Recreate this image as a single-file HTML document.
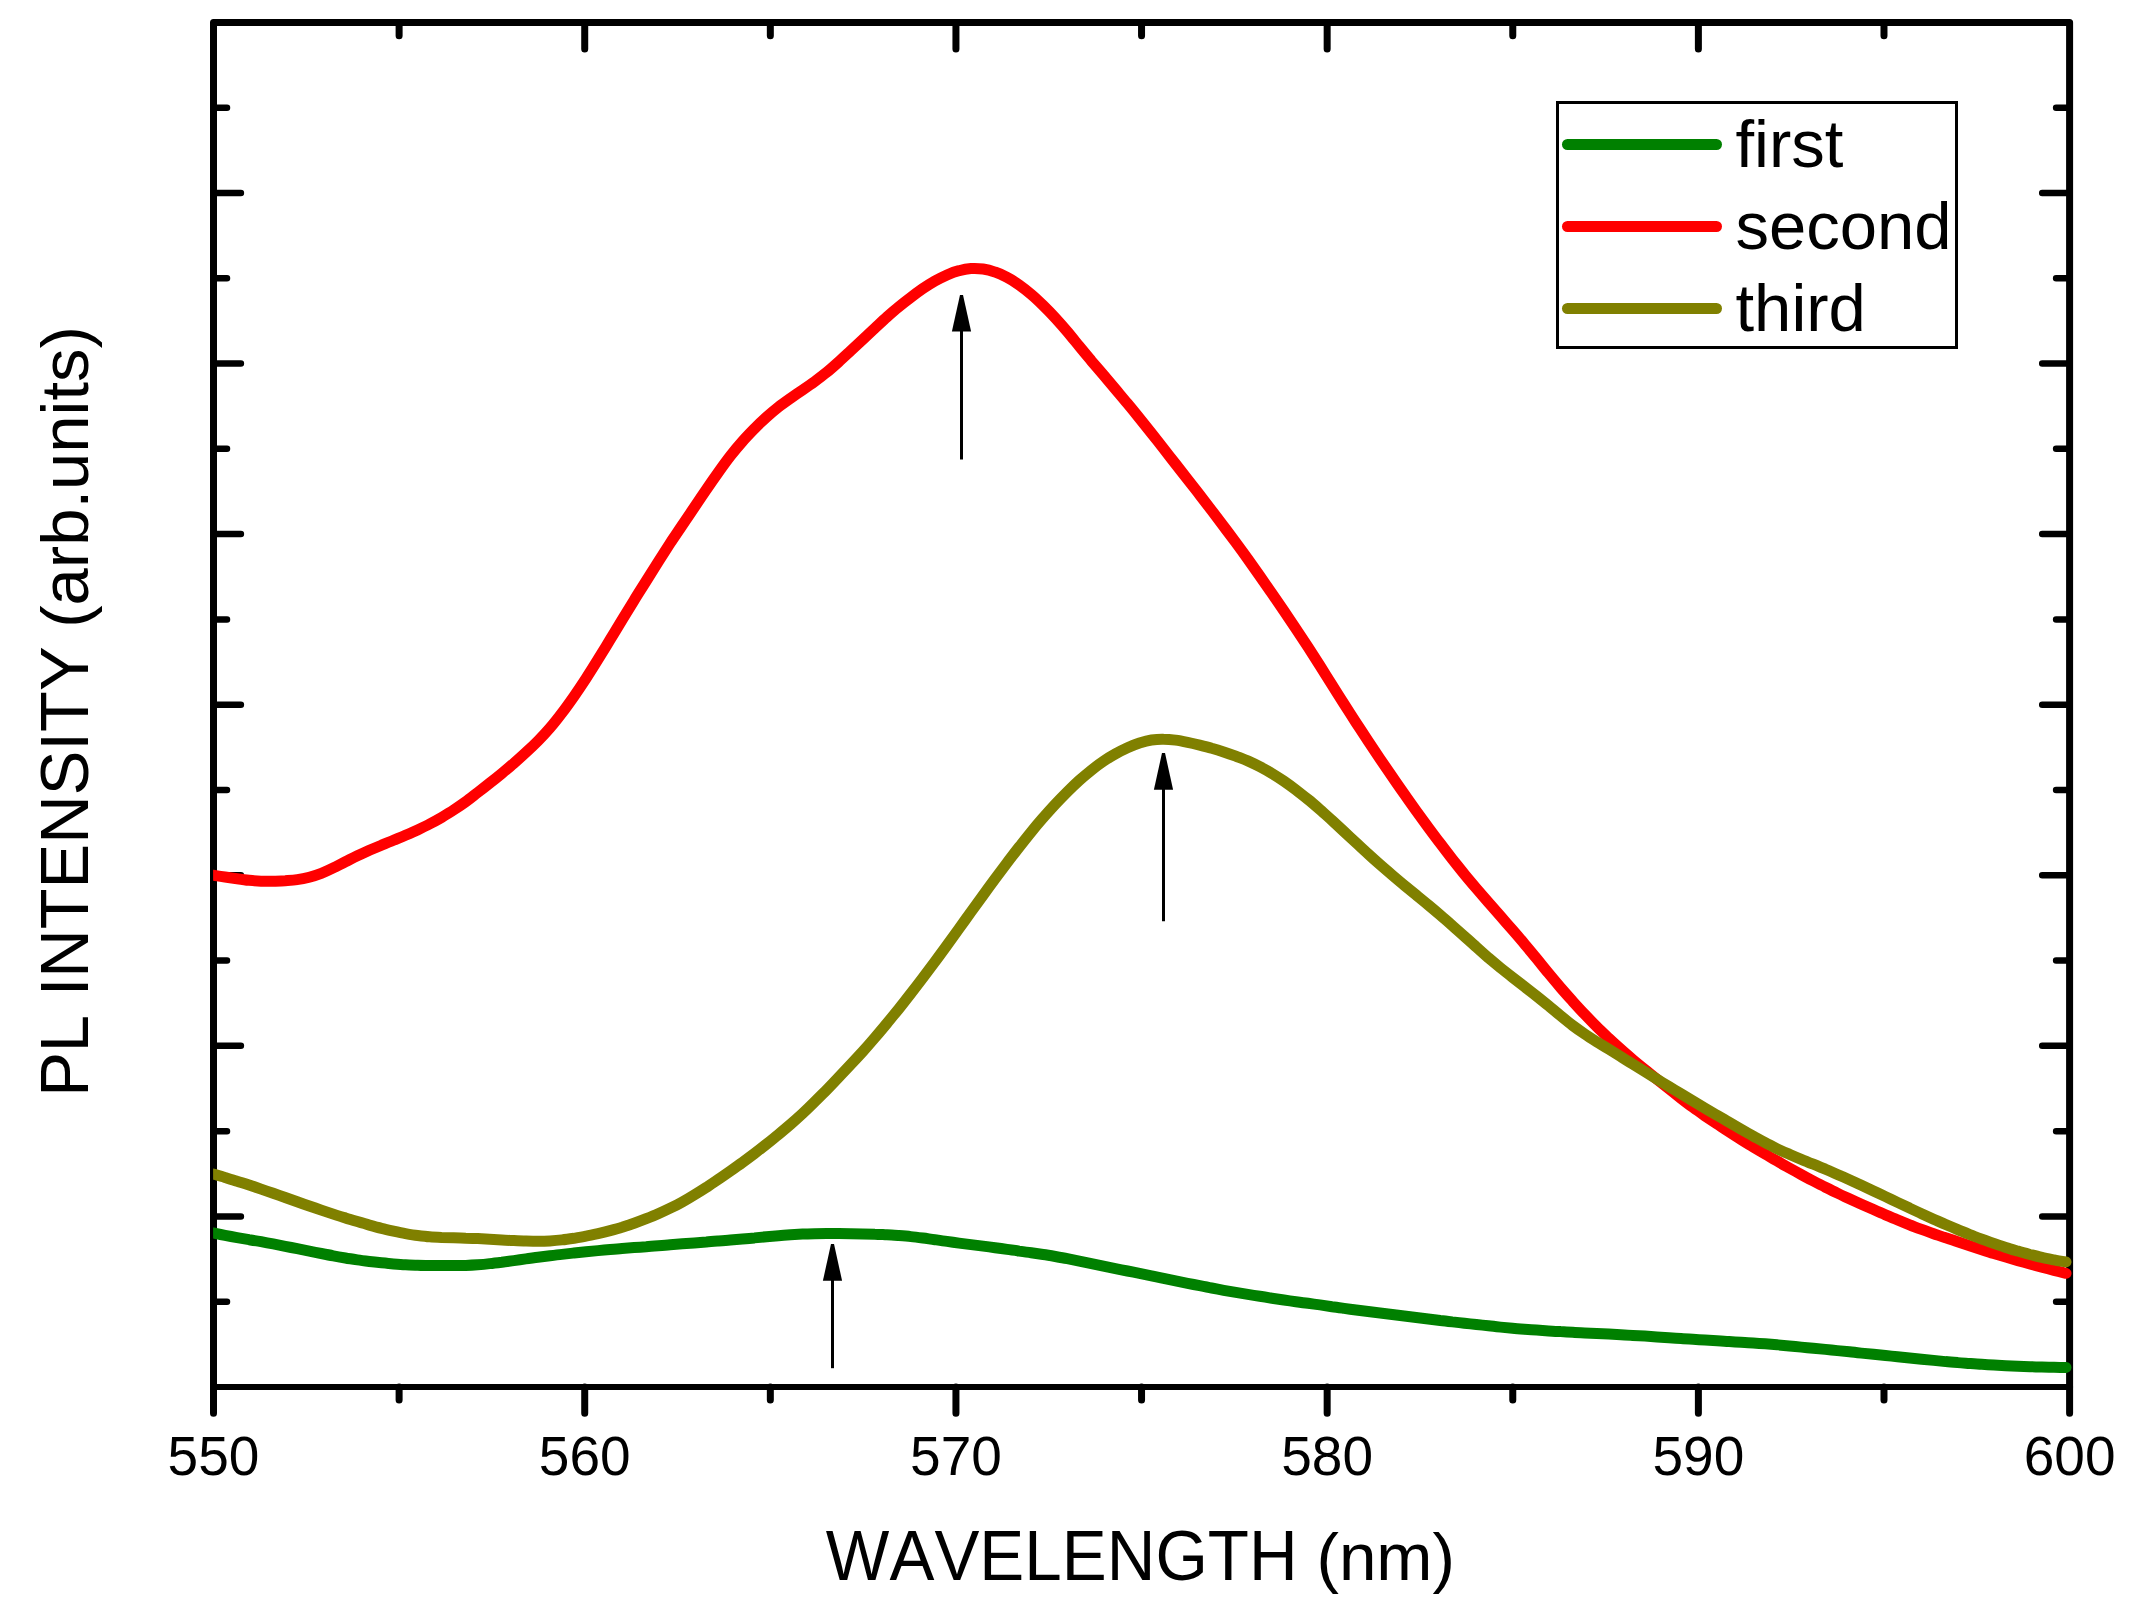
<!DOCTYPE html>
<html lang="en"><head><meta charset="utf-8"><title>PL intensity vs wavelength</title>
<style>html,body{margin:0;padding:0;background:#fff}body{width:2131px;height:1619px;overflow:hidden}svg{display:block}text{font-kerning:none;font-family:"Liberation Sans",sans-serif;fill:#000}</style></head><body>
<svg width="2131" height="1619" viewBox="0 0 2131 1619">
<rect width="2131" height="1619" fill="#fff"/>
<defs><clipPath id="pc"><rect x="213.10" y="0" width="1866.10" height="1619"/></clipPath></defs>
<g stroke="#000" stroke-linecap="round" stroke-linejoin="round" fill="none">
<path stroke-width="7" d="M213.50 1387.00 V22.40 H2069.60 V1387.00"/>
<path stroke-width="6" d="M213.50 1387.00 H2069.60"/>
<path stroke-width="7" d="M213.50 1387.00 v26.20 M399.11 1387.00 v13.00 M399.11 22.40 v13.40 M584.72 1387.00 v26.20 M584.72 22.40 v26.60 M770.33 1387.00 v13.00 M770.33 22.40 v13.40 M955.94 1387.00 v26.20 M955.94 22.40 v26.60 M1141.55 1387.00 v13.00 M1141.55 22.40 v13.40 M1327.16 1387.00 v26.20 M1327.16 22.40 v26.60 M1512.77 1387.00 v13.00 M1512.77 22.40 v13.40 M1698.38 1387.00 v26.20 M1698.38 22.40 v26.60 M1883.99 1387.00 v13.00 M1883.99 22.40 v13.40 M2069.60 1387.00 v26.20"/>
<path stroke-width="6.5" d="M213.50 107.69 h13.50 M2069.60 107.69 h-13.50 M213.50 192.97 h27.40 M2069.60 192.97 h-27.40 M213.50 278.26 h13.50 M2069.60 278.26 h-13.50 M213.50 363.55 h27.40 M2069.60 363.55 h-27.40 M213.50 448.84 h13.50 M2069.60 448.84 h-13.50 M213.50 534.12 h27.40 M2069.60 534.12 h-27.40 M213.50 619.41 h13.50 M2069.60 619.41 h-13.50 M213.50 704.70 h27.40 M2069.60 704.70 h-27.40 M213.50 789.99 h13.50 M2069.60 789.99 h-13.50 M213.50 875.27 h27.40 M2069.60 875.27 h-27.40 M213.50 960.56 h13.50 M2069.60 960.56 h-13.50 M213.50 1045.85 h27.40 M2069.60 1045.85 h-27.40 M213.50 1131.14 h13.50 M2069.60 1131.14 h-13.50 M213.50 1216.42 h27.40 M2069.60 1216.42 h-27.40 M213.50 1301.71 h13.50 M2069.60 1301.71 h-13.50"/>
</g>
<g fill="none" stroke-width="11" stroke-linecap="round" stroke-linejoin="round" clip-path="url(#pc)">
<path stroke="#008000" d="M213.0 1233.0C215.0 1233.4 221.0 1234.6 225.0 1235.4C229.0 1236.1 233.1 1236.9 237.1 1237.6C241.1 1238.3 245.1 1239.0 249.1 1239.7C253.1 1240.3 257.1 1240.9 261.1 1241.7C265.1 1242.4 269.2 1243.2 273.2 1243.9C277.2 1244.7 281.2 1245.5 285.2 1246.3C289.2 1247.1 293.2 1247.9 297.2 1248.7C301.2 1249.5 305.2 1250.3 309.3 1251.1C313.3 1251.9 317.3 1252.7 321.3 1253.5C325.3 1254.3 329.3 1255.1 333.3 1255.8C337.3 1256.6 341.3 1257.3 345.4 1258.0C349.4 1258.7 353.4 1259.3 357.4 1259.9C361.4 1260.5 365.4 1261.0 369.4 1261.5C373.4 1262.0 377.4 1262.4 381.5 1262.8C385.5 1263.2 389.5 1263.6 393.5 1263.9C397.5 1264.2 401.5 1264.5 405.5 1264.7C409.5 1264.9 413.5 1265.1 417.6 1265.2C421.6 1265.4 425.6 1265.4 429.6 1265.5C433.6 1265.5 437.6 1265.5 441.6 1265.5C445.6 1265.5 449.6 1265.5 453.6 1265.5C457.7 1265.5 461.7 1265.5 465.7 1265.4C469.7 1265.3 473.7 1265.1 477.7 1264.8C481.7 1264.5 485.7 1264.1 489.7 1263.6C493.8 1263.2 497.8 1262.7 501.8 1262.2C505.8 1261.6 509.8 1261.1 513.8 1260.6C517.8 1260.0 521.8 1259.5 525.8 1258.9C529.9 1258.4 533.9 1257.8 537.9 1257.3C541.9 1256.8 545.9 1256.3 549.9 1255.8C553.9 1255.3 557.9 1254.8 561.9 1254.4C566.0 1253.9 570.0 1253.5 574.0 1253.0C578.0 1252.6 582.0 1252.2 586.0 1251.8C590.0 1251.4 594.0 1251.0 598.0 1250.6C602.0 1250.2 606.1 1249.9 610.1 1249.5C614.1 1249.2 618.1 1248.9 622.1 1248.5C626.1 1248.2 630.1 1247.9 634.1 1247.6C638.1 1247.3 642.2 1247.0 646.2 1246.7C650.2 1246.3 654.2 1246.0 658.2 1245.7C662.2 1245.4 666.2 1245.1 670.2 1244.7C674.2 1244.4 678.3 1244.1 682.3 1243.8C686.3 1243.5 690.3 1243.2 694.3 1242.9C698.3 1242.6 702.3 1242.3 706.3 1242.0C710.3 1241.6 714.4 1241.3 718.4 1241.0C722.4 1240.7 726.4 1240.4 730.4 1240.0C734.4 1239.7 738.4 1239.3 742.4 1239.0C746.4 1238.6 750.5 1238.2 754.5 1237.9C758.5 1237.5 762.5 1237.1 766.5 1236.7C770.5 1236.4 774.5 1236.0 778.5 1235.7C782.5 1235.3 786.5 1235.0 790.6 1234.7C794.6 1234.5 798.6 1234.3 802.6 1234.1C806.6 1233.9 810.6 1233.8 814.6 1233.7C818.6 1233.7 822.6 1233.6 826.7 1233.6C830.7 1233.6 834.7 1233.6 838.7 1233.6C842.7 1233.7 846.7 1233.7 850.7 1233.7C854.7 1233.8 858.7 1233.8 862.8 1233.9C866.8 1233.9 870.8 1234.0 874.8 1234.2C878.8 1234.3 882.8 1234.6 886.8 1234.8C890.8 1235.0 894.8 1235.3 898.9 1235.6C902.9 1235.9 906.9 1236.2 910.9 1236.6C914.9 1237.0 918.9 1237.5 922.9 1238.0C926.9 1238.5 930.9 1239.2 934.9 1239.7C939.0 1240.3 943.0 1240.9 947.0 1241.4C951.0 1242.0 955.0 1242.5 959.0 1243.1C963.0 1243.6 967.0 1244.1 971.0 1244.6C975.1 1245.1 979.1 1245.6 983.1 1246.1C987.1 1246.6 991.1 1247.2 995.1 1247.7C999.1 1248.3 1003.1 1248.8 1007.1 1249.4C1011.2 1249.9 1015.2 1250.5 1019.2 1251.1C1023.2 1251.6 1027.2 1252.1 1031.2 1252.7C1035.2 1253.3 1039.2 1253.9 1043.2 1254.5C1047.3 1255.1 1051.3 1255.8 1055.3 1256.5C1059.3 1257.2 1063.3 1257.9 1067.3 1258.7C1071.3 1259.5 1075.3 1260.3 1079.3 1261.1C1083.3 1261.9 1087.4 1262.8 1091.4 1263.6C1095.4 1264.5 1099.4 1265.3 1103.4 1266.2C1107.4 1267.0 1111.4 1267.8 1115.4 1268.6C1119.4 1269.4 1123.5 1270.2 1127.5 1271.0C1131.5 1271.8 1135.5 1272.6 1139.5 1273.4C1143.5 1274.2 1147.5 1275.0 1151.5 1275.8C1155.5 1276.7 1159.6 1277.5 1163.6 1278.4C1167.6 1279.2 1171.6 1280.1 1175.6 1280.9C1179.6 1281.7 1183.6 1282.5 1187.6 1283.3C1191.6 1284.1 1195.7 1284.9 1199.7 1285.7C1203.7 1286.5 1207.7 1287.3 1211.7 1288.0C1215.7 1288.8 1219.7 1289.5 1223.7 1290.3C1227.7 1291.0 1231.7 1291.7 1235.8 1292.4C1239.8 1293.1 1243.8 1293.7 1247.8 1294.4C1251.8 1295.0 1255.8 1295.7 1259.8 1296.3C1263.8 1297.0 1267.8 1297.6 1271.9 1298.2C1275.9 1298.8 1279.9 1299.4 1283.9 1300.0C1287.9 1300.6 1291.9 1301.1 1295.9 1301.7C1299.9 1302.2 1303.9 1302.7 1308.0 1303.3C1312.0 1303.8 1316.0 1304.4 1320.0 1304.9C1324.0 1305.5 1328.0 1306.1 1332.0 1306.7C1336.0 1307.2 1340.0 1307.8 1344.1 1308.4C1348.1 1308.9 1352.1 1309.5 1356.1 1310.0C1360.1 1310.5 1364.1 1311.0 1368.1 1311.5C1372.1 1312.1 1376.1 1312.6 1380.1 1313.0C1384.2 1313.5 1388.2 1314.0 1392.2 1314.5C1396.2 1315.0 1400.2 1315.5 1404.2 1316.0C1408.2 1316.5 1412.2 1317.0 1416.2 1317.5C1420.3 1318.0 1424.3 1318.5 1428.3 1319.0C1432.3 1319.5 1436.3 1320.0 1440.3 1320.5C1444.3 1320.9 1448.3 1321.4 1452.3 1321.9C1456.4 1322.3 1460.4 1322.7 1464.4 1323.2C1468.4 1323.6 1472.4 1324.1 1476.4 1324.5C1480.4 1324.9 1484.4 1325.4 1488.4 1325.8C1492.5 1326.3 1496.5 1326.7 1500.5 1327.1C1504.5 1327.5 1508.5 1327.9 1512.5 1328.3C1516.5 1328.7 1520.5 1329.0 1524.5 1329.3C1528.5 1329.6 1532.6 1329.9 1536.6 1330.1C1540.6 1330.4 1544.6 1330.6 1548.6 1330.9C1552.6 1331.1 1556.6 1331.3 1560.6 1331.6C1564.6 1331.8 1568.7 1332.0 1572.7 1332.2C1576.7 1332.5 1580.7 1332.7 1584.7 1332.9C1588.7 1333.1 1592.7 1333.3 1596.7 1333.5C1600.7 1333.7 1604.8 1333.9 1608.8 1334.1C1612.8 1334.3 1616.8 1334.5 1620.8 1334.7C1624.8 1334.9 1628.8 1335.1 1632.8 1335.4C1636.8 1335.6 1640.9 1335.9 1644.9 1336.1C1648.9 1336.4 1652.9 1336.6 1656.9 1336.9C1660.9 1337.2 1664.9 1337.5 1668.9 1337.8C1672.9 1338.1 1677.0 1338.4 1681.0 1338.6C1685.0 1338.9 1689.0 1339.1 1693.0 1339.3C1697.0 1339.5 1701.0 1339.8 1705.0 1340.0C1709.0 1340.2 1713.0 1340.5 1717.1 1340.7C1721.1 1341.0 1725.1 1341.3 1729.1 1341.5C1733.1 1341.8 1737.1 1342.0 1741.1 1342.3C1745.1 1342.5 1749.1 1342.7 1753.2 1343.0C1757.2 1343.3 1761.2 1343.5 1765.2 1343.8C1769.2 1344.1 1773.2 1344.5 1777.2 1344.8C1781.2 1345.2 1785.2 1345.5 1789.3 1345.9C1793.3 1346.3 1797.3 1346.7 1801.3 1347.1C1805.3 1347.5 1809.3 1347.8 1813.3 1348.2C1817.3 1348.6 1821.3 1349.0 1825.4 1349.4C1829.4 1349.8 1833.4 1350.2 1837.4 1350.6C1841.4 1351.0 1845.4 1351.4 1849.4 1351.8C1853.4 1352.3 1857.4 1352.7 1861.4 1353.1C1865.5 1353.5 1869.5 1353.9 1873.5 1354.3C1877.5 1354.7 1881.5 1355.1 1885.5 1355.5C1889.5 1355.9 1893.5 1356.4 1897.5 1356.8C1901.6 1357.2 1905.6 1357.6 1909.6 1358.0C1913.6 1358.4 1917.6 1358.8 1921.6 1359.2C1925.6 1359.6 1929.6 1360.0 1933.6 1360.4C1937.7 1360.8 1941.7 1361.2 1945.7 1361.6C1949.7 1362.0 1953.7 1362.3 1957.7 1362.6C1961.7 1363.0 1965.7 1363.2 1969.7 1363.5C1973.8 1363.8 1977.8 1364.1 1981.8 1364.3C1985.8 1364.6 1989.8 1364.8 1993.8 1365.1C1997.8 1365.3 2001.8 1365.5 2005.8 1365.7C2009.8 1365.9 2013.9 1366.1 2017.9 1366.3C2021.9 1366.4 2025.9 1366.6 2029.9 1366.7C2033.9 1366.8 2037.9 1367.0 2041.9 1367.1C2045.9 1367.2 2050.0 1367.3 2054.0 1367.3C2058.0 1367.4 2064.0 1367.4 2066.0 1367.5"/>
<path stroke="#ff0000" d="M213.0 875.2C215.0 875.5 221.0 876.4 225.0 877.0C229.0 877.6 233.1 878.2 237.1 878.7C241.1 879.3 245.1 879.9 249.1 880.3C253.1 880.7 257.1 881.0 261.1 881.2C265.1 881.3 269.2 881.3 273.2 881.2C277.2 881.1 281.2 880.9 285.2 880.7C289.2 880.4 293.2 880.2 297.2 879.6C301.2 879.1 305.2 878.3 309.3 877.2C313.3 876.2 317.3 874.8 321.3 873.3C325.3 871.7 329.3 869.9 333.3 867.9C337.3 866.0 341.3 863.8 345.4 861.8C349.4 859.8 353.4 857.7 357.4 855.8C361.4 853.9 365.4 852.1 369.4 850.3C373.4 848.6 377.4 846.9 381.5 845.2C385.5 843.6 389.5 842.0 393.5 840.3C397.5 838.6 401.5 837.0 405.5 835.2C409.5 833.5 413.5 831.8 417.6 829.9C421.6 828.0 425.6 826.1 429.6 824.0C433.6 821.9 437.6 819.7 441.6 817.4C445.6 815.0 449.6 812.6 453.6 810.0C457.7 807.4 461.7 804.7 465.7 801.8C469.7 798.8 473.7 795.6 477.7 792.5C481.7 789.4 485.7 786.2 489.7 783.1C493.8 779.9 497.8 776.7 501.8 773.4C505.8 770.1 509.8 766.8 513.8 763.3C517.8 759.8 521.8 756.2 525.8 752.5C529.9 748.8 533.9 745.1 537.9 741.0C541.9 736.9 545.9 732.7 549.9 728.0C553.9 723.4 557.9 718.3 561.9 713.0C566.0 707.7 570.0 702.0 574.0 696.3C578.0 690.5 582.0 684.5 586.0 678.4C590.0 672.3 594.0 665.9 598.0 659.4C602.0 653.0 606.1 646.3 610.1 639.7C614.1 633.1 618.1 626.4 622.1 619.9C626.1 613.3 630.1 606.8 634.1 600.3C638.1 593.8 642.2 587.4 646.2 581.0C650.2 574.6 654.2 568.2 658.2 561.9C662.2 555.6 666.2 549.3 670.2 543.1C674.2 537.0 678.3 531.1 682.3 525.1C686.3 519.1 690.3 513.3 694.3 507.4C698.3 501.4 702.3 495.4 706.3 489.6C710.3 483.7 714.4 477.8 718.4 472.2C722.4 466.6 726.4 461.1 730.4 455.9C734.4 450.8 738.4 446.0 742.4 441.5C746.4 436.9 750.5 432.7 754.5 428.6C758.5 424.5 762.5 420.7 766.5 417.1C770.5 413.5 774.5 410.2 778.5 407.0C782.5 403.9 786.5 401.1 790.6 398.2C794.6 395.4 798.6 392.7 802.6 389.9C806.6 387.2 810.6 384.5 814.6 381.6C818.6 378.6 822.6 375.6 826.7 372.3C830.7 369.0 834.7 365.4 838.7 361.8C842.7 358.3 846.7 354.5 850.7 350.8C854.7 347.1 858.7 343.3 862.8 339.5C866.8 335.7 870.8 331.9 874.8 328.2C878.8 324.5 882.8 320.7 886.8 317.1C890.8 313.6 894.8 310.1 898.9 306.8C902.9 303.5 906.9 300.4 910.9 297.4C914.9 294.3 918.9 291.4 922.9 288.6C926.9 285.9 930.9 283.3 934.9 281.0C939.0 278.7 943.0 276.7 947.0 274.9C951.0 273.2 955.0 271.7 959.0 270.7C963.0 269.6 967.0 268.8 971.0 268.5C975.1 268.3 979.1 268.4 983.1 269.0C987.1 269.6 991.1 270.7 995.1 272.1C999.1 273.4 1003.1 275.3 1007.1 277.4C1011.2 279.5 1015.2 282.1 1019.2 284.9C1023.2 287.7 1027.2 290.9 1031.2 294.4C1035.2 297.8 1039.2 301.6 1043.2 305.5C1047.3 309.5 1051.3 313.6 1055.3 318.0C1059.3 322.4 1063.3 326.9 1067.3 331.6C1071.3 336.4 1075.3 341.4 1079.3 346.3C1083.3 351.2 1087.4 356.1 1091.4 360.9C1095.4 365.6 1099.4 370.2 1103.4 374.9C1107.4 379.6 1111.4 384.3 1115.4 389.1C1119.4 393.9 1123.5 398.7 1127.5 403.6C1131.5 408.4 1135.5 413.3 1139.5 418.3C1143.5 423.3 1147.5 428.3 1151.5 433.3C1155.5 438.4 1159.6 443.5 1163.6 448.6C1167.6 453.7 1171.6 458.9 1175.6 464.0C1179.6 469.1 1183.6 474.2 1187.6 479.4C1191.6 484.5 1195.7 489.6 1199.7 494.8C1203.7 500.0 1207.7 505.2 1211.7 510.5C1215.7 515.7 1219.7 521.0 1223.7 526.3C1227.7 531.7 1231.7 537.0 1235.8 542.5C1239.8 547.9 1243.8 553.4 1247.8 559.0C1251.8 564.6 1255.8 570.3 1259.8 576.0C1263.8 581.7 1267.8 587.6 1271.9 593.4C1275.9 599.2 1279.9 605.0 1283.9 610.9C1287.9 616.8 1291.9 622.8 1295.9 628.8C1299.9 634.8 1303.9 640.8 1308.0 647.0C1312.0 653.2 1316.0 659.5 1320.0 665.8C1324.0 672.1 1328.0 678.6 1332.0 684.9C1336.0 691.3 1340.0 697.7 1344.1 704.0C1348.1 710.2 1352.1 716.5 1356.1 722.7C1360.1 728.8 1364.1 735.0 1368.1 741.0C1372.1 747.1 1376.1 753.1 1380.1 759.0C1384.2 765.0 1388.2 770.8 1392.2 776.6C1396.2 782.5 1400.2 788.2 1404.2 793.9C1408.2 799.7 1412.2 805.3 1416.2 810.9C1420.3 816.5 1424.3 822.0 1428.3 827.4C1432.3 832.8 1436.3 838.2 1440.3 843.4C1444.3 848.7 1448.3 854.0 1452.3 859.1C1456.4 864.2 1460.4 869.3 1464.4 874.2C1468.4 879.1 1472.4 883.8 1476.4 888.5C1480.4 893.2 1484.4 897.8 1488.4 902.4C1492.5 907.0 1496.5 911.6 1500.5 916.2C1504.5 920.8 1508.5 925.3 1512.5 929.9C1516.5 934.5 1520.5 939.1 1524.5 943.9C1528.5 948.7 1532.6 953.6 1536.6 958.5C1540.6 963.4 1544.6 968.5 1548.6 973.3C1552.6 978.2 1556.6 982.9 1560.6 987.6C1564.6 992.2 1568.7 996.8 1572.7 1001.3C1576.7 1005.7 1580.7 1010.1 1584.7 1014.3C1588.7 1018.5 1592.7 1022.7 1596.7 1026.7C1600.7 1030.7 1604.8 1034.5 1608.8 1038.3C1612.8 1042.1 1616.8 1045.7 1620.8 1049.2C1624.8 1052.8 1628.8 1056.2 1632.8 1059.6C1636.8 1063.0 1640.9 1066.3 1644.9 1069.5C1648.9 1072.8 1652.9 1076.0 1656.9 1079.2C1660.9 1082.4 1664.9 1085.6 1668.9 1088.8C1672.9 1092.0 1677.0 1095.2 1681.0 1098.3C1685.0 1101.4 1689.0 1104.5 1693.0 1107.4C1697.0 1110.3 1701.0 1113.1 1705.0 1115.9C1709.0 1118.6 1713.0 1121.3 1717.1 1124.0C1721.1 1126.6 1725.1 1129.3 1729.1 1131.8C1733.1 1134.4 1737.1 1137.0 1741.1 1139.5C1745.1 1142.0 1749.1 1144.5 1753.2 1146.9C1757.2 1149.3 1761.2 1151.7 1765.2 1154.1C1769.2 1156.5 1773.2 1158.8 1777.2 1161.1C1781.2 1163.5 1785.2 1165.7 1789.3 1168.0C1793.3 1170.2 1797.3 1172.4 1801.3 1174.6C1805.3 1176.8 1809.3 1178.9 1813.3 1181.0C1817.3 1183.1 1821.3 1185.2 1825.4 1187.2C1829.4 1189.2 1833.4 1191.2 1837.4 1193.1C1841.4 1195.1 1845.4 1196.9 1849.4 1198.8C1853.4 1200.6 1857.4 1202.4 1861.4 1204.2C1865.5 1206.0 1869.5 1207.8 1873.5 1209.6C1877.5 1211.4 1881.5 1213.2 1885.5 1214.9C1889.5 1216.6 1893.5 1218.3 1897.5 1219.9C1901.6 1221.6 1905.6 1223.2 1909.6 1224.8C1913.6 1226.4 1917.6 1227.9 1921.6 1229.4C1925.6 1230.9 1929.6 1232.3 1933.6 1233.7C1937.7 1235.1 1941.7 1236.4 1945.7 1237.8C1949.7 1239.1 1953.7 1240.4 1957.7 1241.8C1961.7 1243.1 1965.7 1244.5 1969.7 1245.8C1973.8 1247.1 1977.8 1248.4 1981.8 1249.7C1985.8 1251.0 1989.8 1252.3 1993.8 1253.5C1997.8 1254.7 2001.8 1255.9 2005.8 1257.1C2009.8 1258.3 2013.9 1259.5 2017.9 1260.6C2021.9 1261.7 2025.9 1262.8 2029.9 1263.9C2033.9 1265.0 2037.9 1266.1 2041.9 1267.2C2045.9 1268.2 2050.0 1269.3 2054.0 1270.3C2058.0 1271.3 2064.0 1272.8 2066.0 1273.3"/>
<path stroke="#808000" d="M213.0 1173.9C215.0 1174.5 221.0 1176.2 225.0 1177.5C229.0 1178.7 233.1 1179.9 237.1 1181.2C241.1 1182.4 245.1 1183.7 249.1 1185.0C253.1 1186.4 257.1 1187.7 261.1 1189.1C265.1 1190.4 269.2 1191.8 273.2 1193.2C277.2 1194.6 281.2 1196.1 285.2 1197.5C289.2 1198.9 293.2 1200.3 297.2 1201.7C301.2 1203.2 305.2 1204.6 309.3 1206.0C313.3 1207.4 317.3 1208.7 321.3 1210.1C325.3 1211.4 329.3 1212.8 333.3 1214.1C337.3 1215.4 341.3 1216.7 345.4 1217.9C349.4 1219.2 353.4 1220.4 357.4 1221.6C361.4 1222.8 365.4 1224.0 369.4 1225.1C373.4 1226.2 377.4 1227.3 381.5 1228.3C385.5 1229.3 389.5 1230.2 393.5 1231.1C397.5 1232.0 401.5 1232.9 405.5 1233.6C409.5 1234.3 413.5 1235.0 417.6 1235.5C421.6 1236.0 425.6 1236.5 429.6 1236.8C433.6 1237.1 437.6 1237.3 441.6 1237.5C445.6 1237.6 449.6 1237.7 453.6 1237.8C457.7 1237.9 461.7 1238.0 465.7 1238.2C469.7 1238.3 473.7 1238.4 477.7 1238.6C481.7 1238.8 485.7 1239.0 489.7 1239.2C493.8 1239.4 497.8 1239.7 501.8 1239.9C505.8 1240.2 509.8 1240.4 513.8 1240.6C517.8 1240.8 521.8 1241.0 525.8 1241.1C529.9 1241.2 533.9 1241.3 537.9 1241.3C541.9 1241.3 545.9 1241.2 549.9 1240.9C553.9 1240.7 557.9 1240.4 561.9 1239.9C566.0 1239.5 570.0 1238.9 574.0 1238.3C578.0 1237.6 582.0 1236.9 586.0 1236.1C590.0 1235.4 594.0 1234.5 598.0 1233.6C602.0 1232.7 606.1 1231.7 610.1 1230.6C614.1 1229.5 618.1 1228.4 622.1 1227.2C626.1 1225.9 630.1 1224.6 634.1 1223.2C638.1 1221.8 642.2 1220.3 646.2 1218.7C650.2 1217.1 654.2 1215.5 658.2 1213.7C662.2 1212.0 666.2 1210.2 670.2 1208.2C674.2 1206.3 678.3 1204.2 682.3 1201.9C686.3 1199.7 690.3 1197.3 694.3 1194.8C698.3 1192.4 702.3 1189.9 706.3 1187.3C710.3 1184.7 714.4 1182.1 718.4 1179.3C722.4 1176.6 726.4 1173.8 730.4 1171.0C734.4 1168.2 738.4 1165.4 742.4 1162.5C746.4 1159.5 750.5 1156.5 754.5 1153.5C758.5 1150.4 762.5 1147.3 766.5 1144.1C770.5 1140.9 774.5 1137.7 778.5 1134.4C782.5 1131.1 786.5 1127.7 790.6 1124.2C794.6 1120.8 798.6 1117.2 802.6 1113.5C806.6 1109.8 810.6 1105.9 814.6 1101.9C818.6 1098.0 822.6 1093.9 826.7 1089.8C830.7 1085.7 834.7 1081.5 838.7 1077.2C842.7 1073.0 846.7 1068.8 850.7 1064.5C854.7 1060.3 858.7 1056.0 862.8 1051.5C866.8 1047.1 870.8 1042.5 874.8 1037.8C878.8 1033.1 882.8 1028.4 886.8 1023.5C890.8 1018.7 894.8 1013.7 898.9 1008.7C902.9 1003.7 906.9 998.6 910.9 993.4C914.9 988.3 918.9 983.1 922.9 977.8C926.9 972.5 930.9 967.1 934.9 961.7C939.0 956.2 943.0 950.7 947.0 945.2C951.0 939.7 955.0 934.2 959.0 928.6C963.0 923.0 967.0 917.5 971.0 911.9C975.1 906.3 979.1 900.8 983.1 895.3C987.1 889.7 991.1 884.2 995.1 878.8C999.1 873.4 1003.1 868.0 1007.1 862.7C1011.2 857.4 1015.2 852.1 1019.2 847.0C1023.2 841.9 1027.2 836.8 1031.2 831.9C1035.2 827.0 1039.2 822.3 1043.2 817.7C1047.3 813.1 1051.3 808.6 1055.3 804.3C1059.3 800.0 1063.3 795.9 1067.3 791.9C1071.3 787.9 1075.3 784.0 1079.3 780.4C1083.3 776.8 1087.4 773.4 1091.4 770.2C1095.4 767.0 1099.4 764.0 1103.4 761.3C1107.4 758.6 1111.4 756.1 1115.4 753.9C1119.4 751.6 1123.5 749.5 1127.5 747.7C1131.5 745.8 1135.5 744.2 1139.5 742.9C1143.5 741.7 1147.5 740.6 1151.5 740.0C1155.5 739.4 1159.6 739.1 1163.6 739.2C1167.6 739.2 1171.6 739.6 1175.6 740.1C1179.6 740.7 1183.6 741.5 1187.6 742.3C1191.6 743.1 1195.7 744.1 1199.7 745.1C1203.7 746.1 1207.7 747.1 1211.7 748.3C1215.7 749.4 1219.7 750.6 1223.7 751.9C1227.7 753.2 1231.7 754.6 1235.8 756.1C1239.8 757.7 1243.8 759.2 1247.8 760.9C1251.8 762.7 1255.8 764.6 1259.8 766.7C1263.8 768.8 1267.8 771.0 1271.9 773.4C1275.9 775.8 1279.9 778.4 1283.9 781.1C1287.9 783.9 1291.9 786.8 1295.9 789.8C1299.9 792.9 1303.9 796.1 1308.0 799.4C1312.0 802.6 1316.0 806.1 1320.0 809.6C1324.0 813.1 1328.0 816.8 1332.0 820.4C1336.0 824.1 1340.0 827.8 1344.1 831.6C1348.1 835.3 1352.1 839.1 1356.1 842.8C1360.1 846.5 1364.1 850.3 1368.1 853.9C1372.1 857.6 1376.1 861.2 1380.1 864.7C1384.2 868.3 1388.2 871.7 1392.2 875.1C1396.2 878.5 1400.2 881.9 1404.2 885.2C1408.2 888.5 1412.2 891.8 1416.2 895.1C1420.3 898.4 1424.3 901.6 1428.3 905.0C1432.3 908.3 1436.3 911.7 1440.3 915.2C1444.3 918.6 1448.3 922.1 1452.3 925.6C1456.4 929.2 1460.4 932.7 1464.4 936.3C1468.4 939.9 1472.4 943.6 1476.4 947.1C1480.4 950.7 1484.4 954.3 1488.4 957.8C1492.5 961.2 1496.5 964.6 1500.5 967.9C1504.5 971.1 1508.5 974.2 1512.5 977.3C1516.5 980.4 1520.5 983.5 1524.5 986.6C1528.5 989.8 1532.6 992.9 1536.6 996.1C1540.6 999.3 1544.6 1002.5 1548.6 1005.8C1552.6 1009.1 1556.6 1012.6 1560.6 1015.8C1564.6 1019.1 1568.7 1022.5 1572.7 1025.5C1576.7 1028.5 1580.7 1031.3 1584.7 1034.0C1588.7 1036.8 1592.7 1039.3 1596.7 1041.8C1600.7 1044.3 1604.8 1046.7 1608.8 1049.2C1612.8 1051.7 1616.8 1054.1 1620.8 1056.6C1624.8 1059.2 1628.8 1061.7 1632.8 1064.2C1636.8 1066.7 1640.9 1069.2 1644.9 1071.7C1648.9 1074.2 1652.9 1076.7 1656.9 1079.2C1660.9 1081.6 1664.9 1084.1 1668.9 1086.5C1672.9 1088.9 1677.0 1091.4 1681.0 1093.8C1685.0 1096.2 1689.0 1098.6 1693.0 1101.0C1697.0 1103.4 1701.0 1105.8 1705.0 1108.2C1709.0 1110.6 1713.0 1112.9 1717.1 1115.3C1721.1 1117.6 1725.1 1119.9 1729.1 1122.3C1733.1 1124.6 1737.1 1127.0 1741.1 1129.3C1745.1 1131.6 1749.1 1133.9 1753.2 1136.1C1757.2 1138.3 1761.2 1140.6 1765.2 1142.7C1769.2 1144.8 1773.2 1146.8 1777.2 1148.8C1781.2 1150.7 1785.2 1152.5 1789.3 1154.2C1793.3 1156.0 1797.3 1157.7 1801.3 1159.3C1805.3 1161.0 1809.3 1162.6 1813.3 1164.2C1817.3 1165.9 1821.3 1167.5 1825.4 1169.2C1829.4 1170.9 1833.4 1172.6 1837.4 1174.4C1841.4 1176.2 1845.4 1177.9 1849.4 1179.7C1853.4 1181.5 1857.4 1183.4 1861.4 1185.2C1865.5 1187.1 1869.5 1189.0 1873.5 1190.9C1877.5 1192.8 1881.5 1194.7 1885.5 1196.6C1889.5 1198.5 1893.5 1200.5 1897.5 1202.4C1901.6 1204.3 1905.6 1206.2 1909.6 1208.1C1913.6 1210.0 1917.6 1211.9 1921.6 1213.7C1925.6 1215.5 1929.6 1217.4 1933.6 1219.2C1937.7 1221.0 1941.7 1222.7 1945.7 1224.5C1949.7 1226.2 1953.7 1227.9 1957.7 1229.6C1961.7 1231.3 1965.7 1232.9 1969.7 1234.5C1973.8 1236.1 1977.8 1237.6 1981.8 1239.1C1985.8 1240.6 1989.8 1242.0 1993.8 1243.4C1997.8 1244.8 2001.8 1246.1 2005.8 1247.4C2009.8 1248.7 2013.9 1249.9 2017.9 1251.1C2021.9 1252.3 2025.9 1253.4 2029.9 1254.5C2033.9 1255.5 2037.9 1256.5 2041.9 1257.4C2045.9 1258.3 2050.0 1259.1 2054.0 1259.9C2058.0 1260.7 2064.0 1261.6 2066.0 1261.9"/>
</g>
<path d="M961.50 459.50 V330.60" stroke="#000" stroke-width="3" fill="none"/><path d="M960.00 295.00 L963.00 295.00 L971.10 331.60 L951.90 331.60 Z" fill="#000"/>
<path d="M1163.50 921.25 V788.75" stroke="#000" stroke-width="3" fill="none"/><path d="M1162.00 753.00 L1165.00 753.00 L1173.10 789.75 L1153.90 789.75 Z" fill="#000"/>
<path d="M832.50 1368.20 V1279.75" stroke="#000" stroke-width="3" fill="none"/><path d="M831.00 1244.00 L834.00 1244.00 L842.10 1280.75 L822.90 1280.75 Z" fill="#000"/>
<text x="213.50" y="1474.8" font-size="55" text-anchor="middle">550</text>
<text x="584.72" y="1474.8" font-size="55" text-anchor="middle">560</text>
<text x="955.94" y="1474.8" font-size="55" text-anchor="middle">570</text>
<text x="1327.16" y="1474.8" font-size="55" text-anchor="middle">580</text>
<text x="1698.38" y="1474.8" font-size="55" text-anchor="middle">590</text>
<text x="2069.60" y="1474.8" font-size="55" text-anchor="middle">600</text>
<g transform="translate(1140.40 1580.40)"><text transform="translate(-314.56 0) scale(1 1.0350)" font-size="67.4">WAVELENGTH</text><text transform="translate(176.04 0) scale(1 1.0000)" font-size="67.4">(nm)</text></g>
<g transform="translate(88.20 711.50) rotate(-90)"><text transform="translate(-385.35 0) scale(1 1.0350)" font-size="67">PL INTENSITY</text><text transform="translate(83.75 0) scale(1 1.0000)" font-size="67">(arb.units)</text></g>
<rect x="1557.5" y="102.5" width="399" height="245" fill="#fff" stroke="#000" stroke-width="3"/>
<path d="M1567.5 144.50 H1716.5" stroke="#008000" stroke-width="11" stroke-linecap="round" fill="none"/>
<text x="1735.5" y="167.30" font-size="67">first</text>
<path d="M1567.5 226.50 H1716.5" stroke="#ff0000" stroke-width="11" stroke-linecap="round" fill="none"/>
<text x="1735.5" y="249.30" font-size="67">second</text>
<path d="M1567.5 308.50 H1716.5" stroke="#808000" stroke-width="11" stroke-linecap="round" fill="none"/>
<text x="1735.5" y="331.30" font-size="67">third</text>
</svg></body></html>
